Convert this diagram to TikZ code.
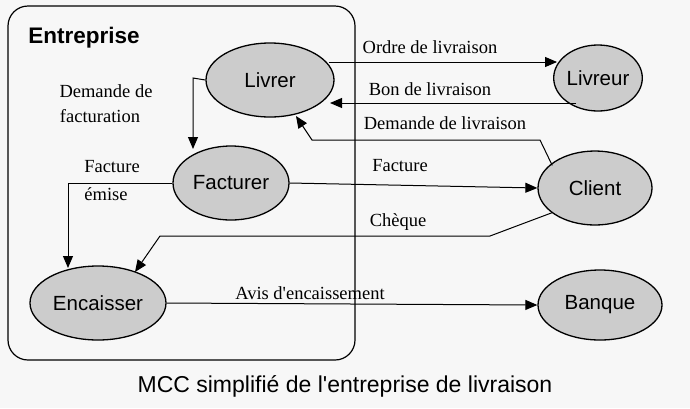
\documentclass[tikz,border=0pt]{standalone}
\usepackage{fontspec}
\setmainfont{Liberation Serif}
\setsansfont{Liberation Sans}
\usetikzlibrary{shapes.geometric,arrows.meta}
\begin{document}
\begin{tikzpicture}[x=1pt,y=-1pt,
  proc/.style={ellipse,draw,line width=1.3pt,fill=black!20,font=\sffamily\fontsize{20.5}{22}\selectfont,inner sep=0pt},
  lbl/.style={font=\fontsize{18.5}{21}\selectfont,align=center},
  arr/.style={line width=1pt,-{Triangle[length=12pt,width=10pt]}}]
\fill[black!3] (0,0) rectangle (690,408);
\useasboundingbox (0,0) rectangle (690,408);
\draw[line width=1.2pt,rounded corners=20pt] (8,6) rectangle (355,360);
\node[font=\sffamily\bfseries\fontsize{22.5}{24}\selectfont] (title) at (84,38) {Entreprise};
\node[proc,minimum width=128,minimum height=74] (liv) at (270,80) {Livrer};
\node[proc,minimum width=84,minimum height=66] (lvr) at (598,78) {Livreur};
\node[proc,minimum width=116,minimum height=74] (fac) at (231,183) {Facturer};
\node[proc,minimum width=114,minimum height=74] (cli) at (595,188) {Client};
\node[proc,minimum width=136,minimum height=74] (enc) at (98,303) {Encaisser};
\node[proc,minimum width=124,minimum height=70] (ban) at (600,305) {Banque};
\coordinate (c1) at (193,78);
\coordinate (c2) at (68,183);
\coordinate (c3) at (540,140);
\coordinate (c4) at (312,140);
\coordinate (c5) at (490,236);
\coordinate (c6) at (160,236);
\draw[arr] ([xshift=-6]liv.east |- 0,62) -- ([xshift=4]lvr.west |- 0,62);
\draw[arr] (lvr.south west |- 0,103) ++(10,0) -- (330,103);
\draw[arr] (cli.north west) ++(-2,4) -- (c3) -- (c4) -- (296,116);
\draw[arr] (liv.west) -- (c1) -- (193,149);
\draw[arr] (fac.east) -- (cli.west);
\draw[arr] (fac.west) -- (c2) -- (68,268);
\draw[arr] (cli.south west) ++(-2,-2) -- (c5) -- (c6) -- (135,272);
\draw[arr] (enc.east) -- (ban.west);
\node[lbl] (l1) at (430,47) {Ordre de livraison};
\node[lbl] (l2) at (430,89) {Bon de livraison};
\node[lbl] (l3) at (445,123) {Demande de livraison};
\node[lbl] (l4) at (400,166) {Facture};
\node[lbl] (l5) at (398,222) {Chèque};
\node[lbl] (l6) at (310,293) {Avis d\textquotesingle encaissement};
\node[lbl] (l7a) at (106,91) {Demande de};
\node[lbl] (l7b) at (100,116) {facturation};
\node[lbl] (l8a) at (112,167) {Facture};
\node[lbl] (l8b) at (106,194) {émise};
\node[font=\sffamily\fontsize{23}{25}\selectfont] (cap) at (345,386) {MCC simplifié de l\textquotesingle entreprise de livraison};
\end{tikzpicture}
\end{document}
